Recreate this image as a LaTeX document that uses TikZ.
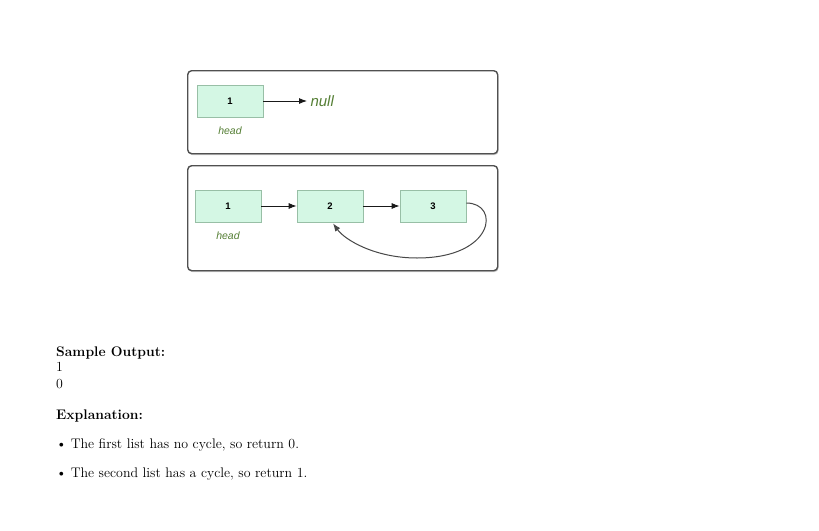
\documentclass[tikz,border=0pt]{standalone}
\usepackage{fontspec}
\newfontfamily\diagfont{Liberation Sans}
\usetikzlibrary{arrows.meta,shadows,calc}
\definecolor{nodefill}{HTML}{D4F7E4}
\definecolor{nodeedge}{HTML}{98BFA6}
\definecolor{labgreen}{HTML}{557F35}
\definecolor{framegray}{HTML}{505050}
\begin{document}
\begin{tikzpicture}[x=1pt,y=-1pt,
  frame/.style={draw=framegray,line width=1.4pt,rounded corners=4pt,fill=white,
    drop shadow={shadow xshift=0.8pt,shadow yshift=-1.4pt,opacity=0.4}},
  listnode/.style={draw=nodeedge,fill=nodefill,line width=0.7pt,minimum width=66pt,minimum height=32pt,
    inner sep=0pt,font=\diagfont\fontsize{9.5}{10}\selectfont\bfseries},
  headlab/.style={font=\diagfont\fontsize{10.5}{12}\selectfont\itshape,text=labgreen},
  link/.style={-{Latex[length=8pt,width=6pt]},line width=0.9pt,draw=black!90},
  body/.style={anchor=base west,inner sep=0pt,font=\fontsize{13.9}{17}\selectfont}
]
\useasboundingbox (0,0) rectangle (819,530);
% frames
\node[frame,minimum width=310pt,minimum height=83pt,anchor=north west] (f1) at (187,70) {};
\node[frame,minimum width=310pt,minimum height=105pt,anchor=north west] (f2) at (187,165) {};
% list 1
\node[listnode] (a1) at (230,101) {1};
\node[headlab,anchor=west,font=\diagfont\fontsize{15}{17}\selectfont\itshape] (nul) at (307,101) {null};
\draw[link] (a1.east) -- (nul.west);
\node[headlab] (h1) at (230,131) {head};
% list 2
\node[listnode] (b1) at (228,206) {1};
\node[listnode] (b2) at (330,206) {2};
\node[listnode] (b3) at (433,206) {3};
\node[headlab] (h2) at (228,236) {head};
\draw[link] (b1) -- (b2);
\draw[link] (b2) -- (b3);
\coordinate (c3) at ($(b3.east)+(0,-3)$);
\coordinate (cb) at ($(b2.south)+(3,1)$);
\coordinate (bot) at (417,258);
\draw[-{Latex[length=8pt,width=6pt]},line width=1pt,draw=black!72]
  (c3) .. controls +(34,0) and (495,258) .. (bot)
  .. controls (375,258) and (345,240) .. (cb);
% text
\node[body,font=\fontsize{13.9}{17}\selectfont\bfseries] (t1) at (56,356) {Sample Output:};
\node[body] (t2) at (56,371) {1};
\node[body] (t3) at (56,388) {0};
\node[body,font=\fontsize{13.9}{17}\selectfont\bfseries] (t4) at (56,419) {Explanation:};
\node[body] (t5) at (56,448) {\textbullet\hspace{4pt}The first list has no cycle, so return 0.};
\node[body] (t6) at (56,477) {\textbullet\hspace{4pt}The second list has a cycle, so return 1.};
\end{tikzpicture}
\end{document}
